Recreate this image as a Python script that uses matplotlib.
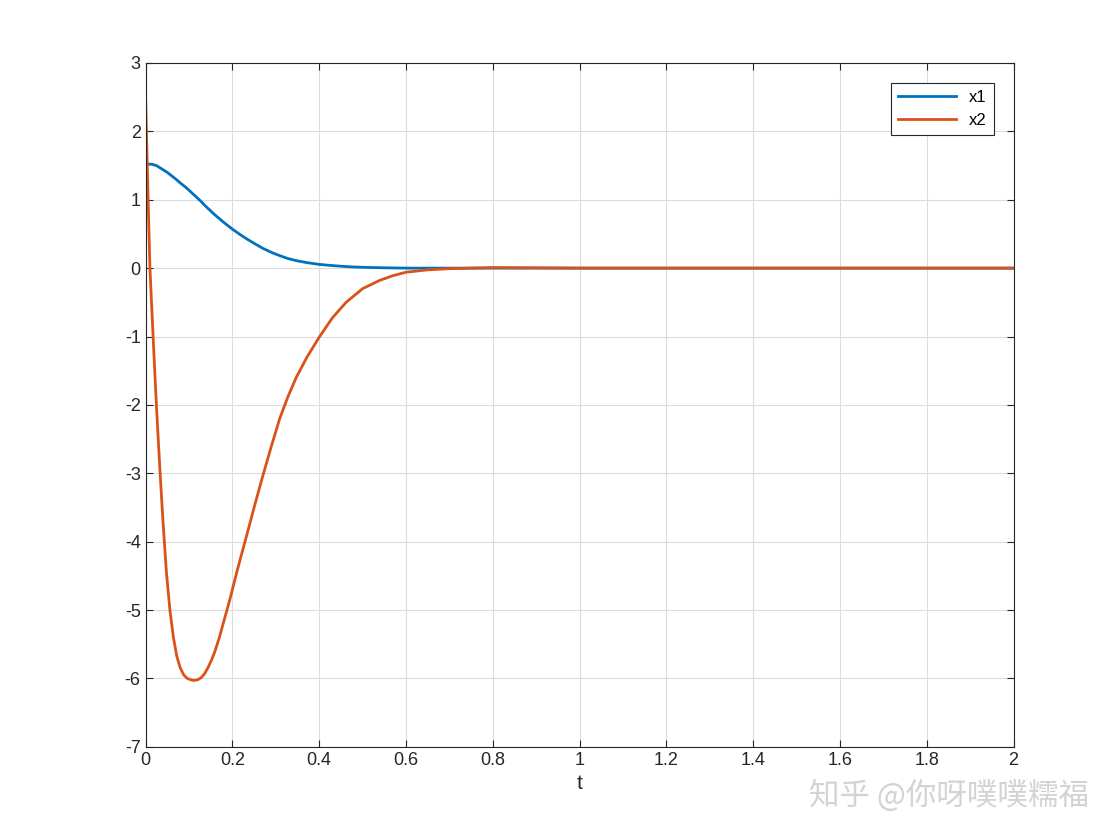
import matplotlib.pyplot as plt

plt.rcParams['font.family'] = ['Liberation Sans', 'Noto Sans CJK SC', 'DejaVu Sans']
plt.rcParams['axes.unicode_minus'] = False

# x1 数据
t1 = [0, 0.007, 0.014, 0.025, 0.04, 0.05, 0.06, 0.07, 0.079, 0.09, 0.1, 0.11, 0.117, 0.127,
      0.136, 0.146, 0.156, 0.167, 0.178, 0.189, 0.2, 0.218, 0.235, 0.252, 0.27, 0.29, 0.31,
      0.328, 0.347, 0.372, 0.4, 0.425, 0.45, 0.475, 0.5, 0.55, 0.6, 0.7, 0.8, 1.0, 2.0]
x1 = [1.5, 1.52, 1.52, 1.5, 1.44, 1.40, 1.35, 1.30, 1.25, 1.195, 1.14, 1.08, 1.04, 0.98,
      0.92, 0.86, 0.80, 0.74, 0.68, 0.625, 0.57, 0.49, 0.42, 0.355, 0.29, 0.23, 0.18,
      0.14, 0.11, 0.08, 0.055, 0.04, 0.028, 0.018, 0.012, 0.005, 0.0, 0.0, 0.0, 0.0, 0.0]

# x2 数据
t2 = [0, 0.005, 0.01, 0.018, 0.025, 0.033, 0.04, 0.048, 0.056, 0.064, 0.072, 0.08, 0.088,
      0.096, 0.104, 0.112, 0.12, 0.128, 0.136, 0.144, 0.152, 0.16, 0.17, 0.18, 0.194, 0.212,
      0.232, 0.25, 0.27, 0.29, 0.309, 0.328, 0.347, 0.372, 0.4, 0.43, 0.462, 0.5, 0.539,
      0.57, 0.6, 0.65, 0.7, 0.75, 0.8, 0.9, 1.0, 2.0]
x2 = [2.5, 1.2, 0.0, -1.1, -2.02, -2.95, -3.7, -4.45, -5.0, -5.4, -5.68, -5.85, -5.95,
      -6.0, -6.02, -6.03, -6.02, -5.99, -5.93, -5.84, -5.73, -5.6, -5.4, -5.17, -4.85, -4.4,
      -3.93, -3.5, -3.04, -2.6, -2.2, -1.88, -1.6, -1.3, -1.01, -0.73, -0.5, -0.3, -0.18,
      -0.11, -0.06, -0.025, -0.008, 0.0, 0.008, 0.005, 0.0, 0.0]

fig = plt.figure(figsize=(11.2, 8.4), dpi=100)
ax = fig.add_axes([0.130, 0.111, 0.775, 0.814])

ax.plot(t1, x1, color='#0072BD', lw=2, label='x1')
ax.plot(t2, x2, color='#D95319', lw=2, label='x2')

ax.set_xlim(0, 2)
ax.set_ylim(-7, 3)
ax.set_xticks([i * 0.2 for i in range(11)])
ax.set_xticklabels(['0', '0.2', '0.4', '0.6', '0.8', '1', '1.2', '1.4', '1.6', '1.8', '2'])
ax.set_yticks(range(-7, 4))
ax.tick_params(labelsize=13, direction='in', length=5, colors='#262626', top=True, right=True)
ax.grid(True, color='#dcdcdc', lw=0.8)
for s in ax.spines.values():
    s.set_color('#262626')
ax.set_xlabel('t', fontsize=15, color='#262626')

leg = ax.legend(loc='upper right', fontsize=12, fancybox=False, edgecolor='#262626',
                framealpha=1, handlelength=3.5, borderaxespad=1.2)
leg.get_frame().set_linewidth(0.8)

fig.text(0.972, 0.052, '知乎 @你呀噗噗糯福', ha='right', va='center', fontsize=22,
         color='#c8c8c8', alpha=0.8, family=['Noto Sans CJK SC', 'DejaVu Sans'])

fig.savefig('out.png')
